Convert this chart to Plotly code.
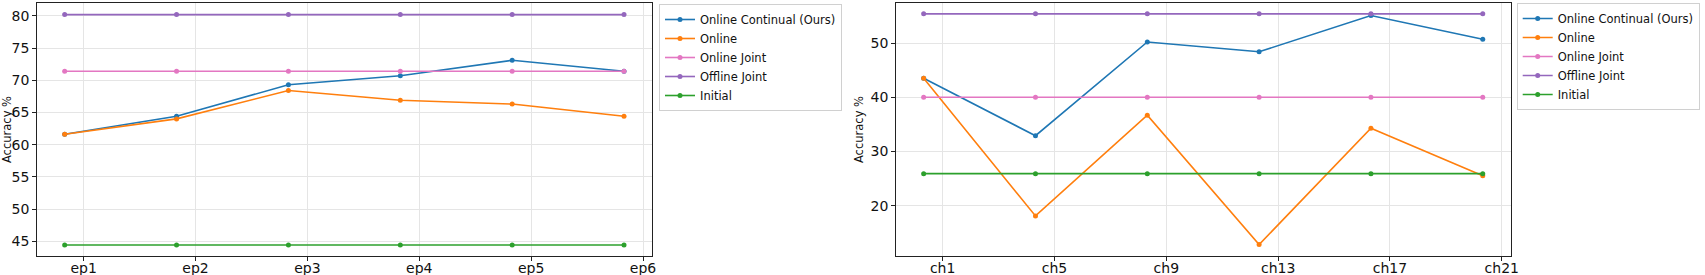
import plotly.graph_objects as go

# ---- data ----
ep_labels = ["ep1", "ep2", "ep3", "ep4", "ep5", "ep6"]
ch_labels = ["ch1", "ch5", "ch9", "ch13", "ch17", "ch21"]

series_names = ["Online Continual (Ours)", "Online", "Online Joint", "Offline Joint", "Initial"]
series_colors = ["#1f77b4", "#ff7f0e", "#e377c2", "#9467bd", "#2ca02c"]

ep_continual = [61.6, 64.4, 69.3, 70.7, 73.1, 71.4]
ep_online = [61.6, 64.0, 68.4, 66.9, 66.3, 64.4]
ep_online_joint = [71.4, 71.4, 71.4, 71.4, 71.4, 71.4]
ep_offline_joint = [80.2, 80.2, 80.2, 80.2, 80.2, 80.2]
ep_initial = [44.4, 44.4, 44.4, 44.4, 44.4, 44.4]

ch_continual = [43.5, 32.9, 50.2, 48.4, 55.1, 50.7]
ch_online = [43.5, 18.1, 36.7, 12.8, 34.3, 25.5]
ch_online_joint = [40.0, 40.0, 40.0, 40.0, 40.0, 40.0]
ch_offline_joint = [55.4, 55.4, 55.4, 55.4, 55.4, 55.4]
ch_initial = [25.9, 25.9, 25.9, 25.9, 25.9, 25.9]

ep_series = [ep_continual, ep_online, ep_online_joint, ep_offline_joint, ep_initial]
ch_series = [ch_continual, ch_online, ch_online_joint, ch_offline_joint, ch_initial]

tick_offset = 0.17
xs = list(range(len(ep_labels)))
tickpos = [x + tick_offset for x in xs]

W, H = 1705, 275
FONT = "DejaVu Sans"

fig = go.Figure()

for i, (name, col) in enumerate(zip(series_names, series_colors)):
    fig.add_trace(go.Scatter(
        x=xs, y=ep_series[i], mode="lines+markers", name=name,
        line=dict(color=col, width=1.6), marker=dict(color=col, size=5),
        xaxis="x", yaxis="y", legend="legend", showlegend=True))
for i, (name, col) in enumerate(zip(series_names, series_colors)):
    fig.add_trace(go.Scatter(
        x=xs, y=ch_series[i], mode="lines+markers", name=name,
        line=dict(color=col, width=1.6), marker=dict(color=col, size=5),
        xaxis="x2", yaxis="y2", legend="legend2", showlegend=True))

def px_x(p):
    return p / W

def px_y(p):
    return 1 - p / H

common_x = dict(showline=True, linecolor="#222222", linewidth=1.2, mirror=True,
                showgrid=True, gridcolor="#e5e5e5", gridwidth=1, zeroline=False,
                ticks="outside", ticklen=3.5, tickcolor="#222222", automargin=False,
                ticklabelstandoff=-4,
                tickfont=dict(family=FONT, size=14, color="#111111"),
                range=[-0.25, 5.25], tickvals=tickpos)
common_y = dict(showline=True, linecolor="#222222", linewidth=1.2, mirror=True,
                showgrid=True, gridcolor="#e5e5e5", gridwidth=1, zeroline=False,
                ticks="outside", ticklen=3.5, tickcolor="#222222", automargin=False,
                tickfont=dict(family=FONT, size=14, color="#111111"),
                title=dict(text="Accuracy %", font=dict(family=FONT, size=11.5, color="#111111"), standoff=4))

legend_common = dict(font=dict(family=FONT, size=11.5, color="#111111"),
                     bordercolor="#d0d0d0", borderwidth=1, bgcolor="white",
                     xanchor="left", yanchor="top", tracegroupgap=0,
                     itemwidth=30)

fig.update_layout(
    width=W, height=H,
    margin=dict(l=0, r=0, t=0, b=0),
    plot_bgcolor="white", paper_bgcolor="white",
    font=dict(family=FONT),
    xaxis=dict(domain=[px_x(36.7), px_x(652)], ticktext=ep_labels, anchor="y", **common_x),
    yaxis=dict(domain=[px_y(256), px_y(3)], range=[42.7, 82.0], tickvals=[45, 50, 55, 60, 65, 70, 75, 80],
               anchor="x", **common_y),
    xaxis2=dict(domain=[px_x(895.7), px_x(1510.7)], ticktext=ch_labels, anchor="y2", **common_x),
    yaxis2=dict(domain=[px_y(256), px_y(3)], range=[10.7, 57.4], tickvals=[20, 30, 40, 50],
                anchor="x2", **common_y),
    legend=dict(x=px_x(659), y=px_y(4), **legend_common),
    legend2=dict(x=px_x(1516.7), y=px_y(3), **legend_common),
)

fig.write_html("out.html", config={"displayModeBar": False},
               post_script="document.body.style.margin='0';document.body.style.overflow='hidden';")
